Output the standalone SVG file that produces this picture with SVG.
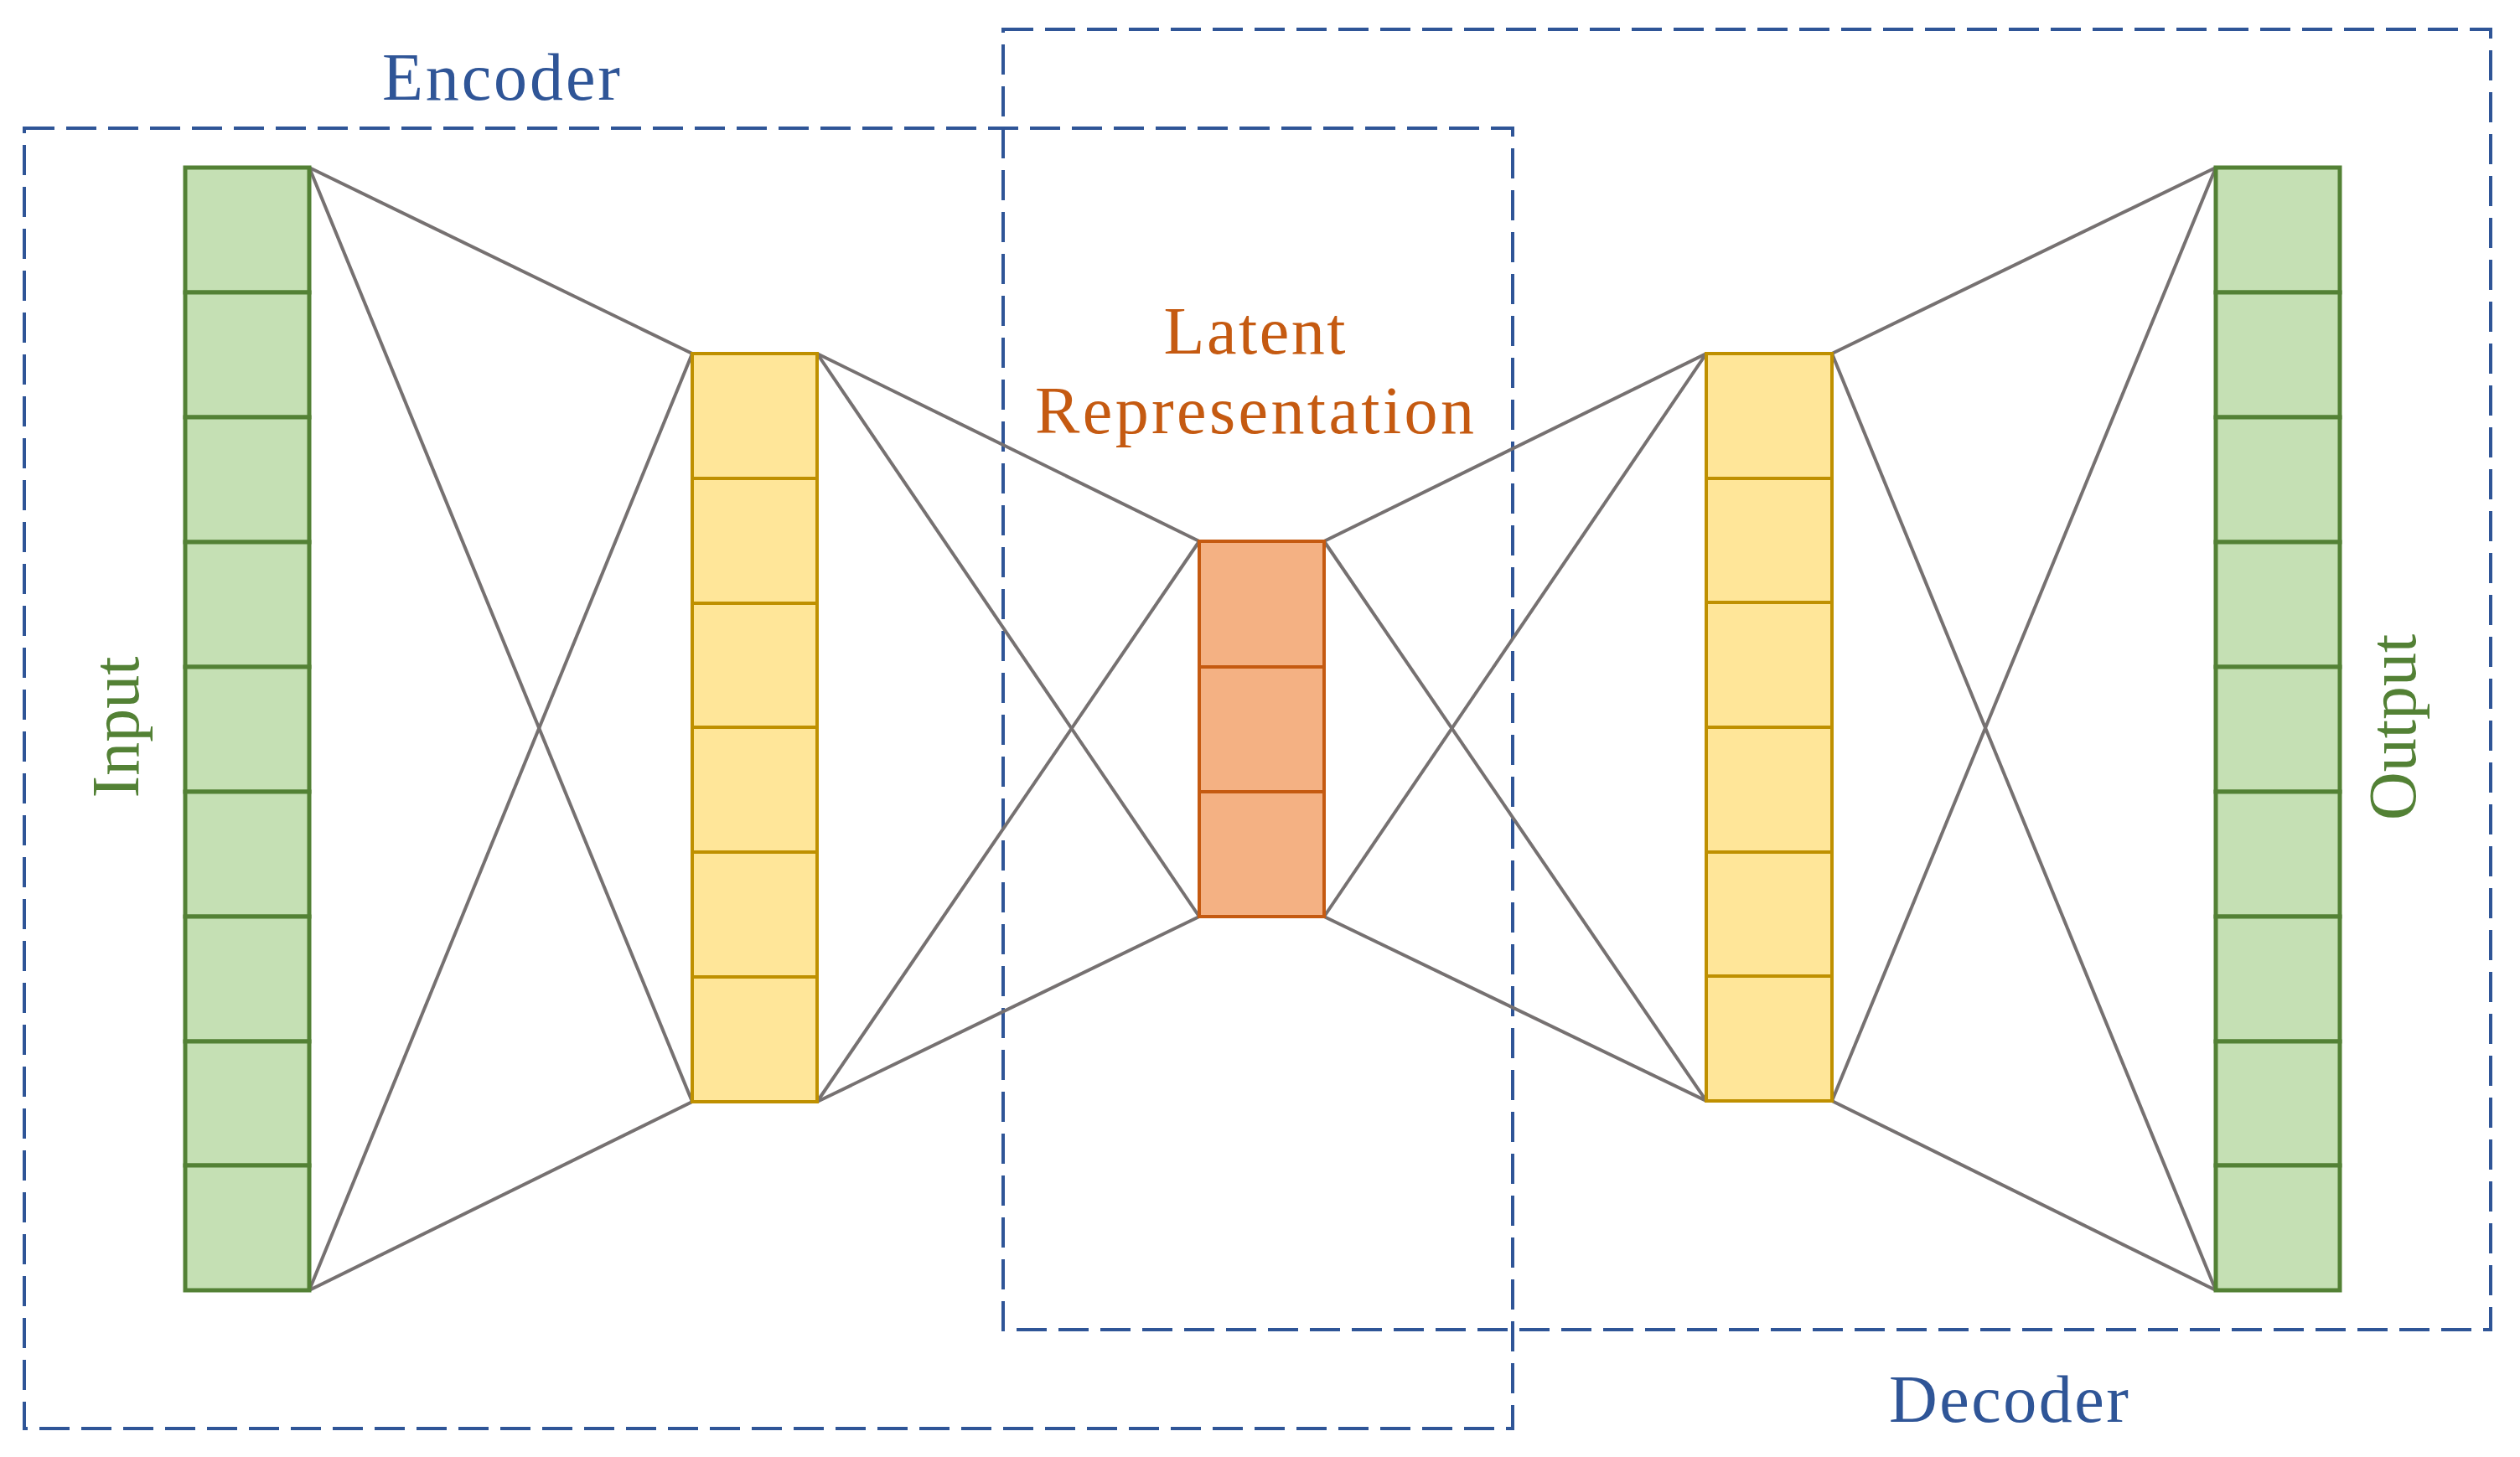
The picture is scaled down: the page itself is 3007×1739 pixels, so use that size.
<svg xmlns="http://www.w3.org/2000/svg" width="3007" height="1739" viewBox="0 0 3007 1739">
<style>
.box{fill:none;stroke:#2F5597;stroke-width:4;stroke-dasharray:36 14}
.lbl{font-family:"Liberation Serif","DejaVu Serif",serif;font-size:80px;text-anchor:middle}
.g{fill:#C5E0B4;stroke:#538135;stroke-width:5}
.y{fill:#FFE699;stroke:#BF9000;stroke-width:4}
.o{fill:#F4B183;stroke:#C55A11;stroke-width:4}
.c line{stroke:#767171;stroke-width:4}
</style>
<rect width="3007" height="1739" fill="#fff"/>
<g id="encoder"><rect class="box" x="29" y="153" width="1776" height="1552"/><text class="lbl" x="598" y="119" fill="#2F5597" textLength="284">Encoder</text></g>
<g id="decoder"><rect class="box" x="1197" y="35" width="1775" height="1552"/><text class="lbl" x="2397" y="1697" fill="#2F5597" textLength="286">Decoder</text></g>
<g class="c" id="connectors">
<line x1="369" y1="200" x2="826" y2="422"/><line x1="369" y1="200" x2="826" y2="1315"/>
<line x1="369" y1="1540" x2="826" y2="422"/><line x1="369" y1="1540" x2="826" y2="1315"/>
<line x1="975" y1="422" x2="1431" y2="646"/><line x1="975" y1="422" x2="1431" y2="1094"/>
<line x1="975" y1="1315" x2="1431" y2="646"/><line x1="975" y1="1315" x2="1431" y2="1094"/>
<line x1="1580" y1="646" x2="2036" y2="422"/><line x1="1580" y1="646" x2="2036" y2="1314"/>
<line x1="1580" y1="1094" x2="2036" y2="422"/><line x1="1580" y1="1094" x2="2036" y2="1314"/>
<line x1="2186" y1="422" x2="2644" y2="200"/><line x1="2186" y1="422" x2="2644" y2="1540"/>
<line x1="2186" y1="1314" x2="2644" y2="200"/><line x1="2186" y1="1314" x2="2644" y2="1540"/>
</g>
<g id="input">
<rect class="g" x="221" y="200" width="148" height="149"/><rect class="g" x="221" y="349" width="148" height="149"/><rect class="g" x="221" y="498" width="148" height="149"/><rect class="g" x="221" y="647" width="148" height="149"/><rect class="g" x="221" y="796" width="148" height="149"/><rect class="g" x="221" y="945" width="148" height="149"/><rect class="g" x="221" y="1094" width="148" height="149"/><rect class="g" x="221" y="1243" width="148" height="148"/><rect class="g" x="221" y="1391" width="148" height="149"/>
<text class="lbl" transform="translate(165 868) rotate(-90)" fill="#538135">Input</text>
</g>
<g id="hidden1">
<rect class="y" x="826" y="422" width="149" height="149"/><rect class="y" x="826" y="571" width="149" height="149"/><rect class="y" x="826" y="720" width="149" height="148"/><rect class="y" x="826" y="868" width="149" height="149"/><rect class="y" x="826" y="1017" width="149" height="149"/><rect class="y" x="826" y="1166" width="149" height="149"/>
</g>
<g id="latent">
<rect class="o" x="1431" y="646" width="149" height="150"/><rect class="o" x="1431" y="796" width="149" height="149"/><rect class="o" x="1431" y="945" width="149" height="149"/>
<text class="lbl" x="1497" y="422" fill="#C55A11" textLength="217">Latent</text>
<text class="lbl" x="1497" y="517" fill="#C55A11" textLength="524">Representation</text>
</g>
<g id="hidden2">
<rect class="y" x="2036" y="422" width="150" height="149"/><rect class="y" x="2036" y="571" width="150" height="148"/><rect class="y" x="2036" y="719" width="150" height="149"/><rect class="y" x="2036" y="868" width="150" height="149"/><rect class="y" x="2036" y="1017" width="150" height="148"/><rect class="y" x="2036" y="1165" width="150" height="149"/>
</g>
<g id="output">
<rect class="g" x="2644" y="200" width="148" height="149"/><rect class="g" x="2644" y="349" width="148" height="149"/><rect class="g" x="2644" y="498" width="148" height="149"/><rect class="g" x="2644" y="647" width="148" height="149"/><rect class="g" x="2644" y="796" width="148" height="149"/><rect class="g" x="2644" y="945" width="148" height="149"/><rect class="g" x="2644" y="1094" width="148" height="149"/><rect class="g" x="2644" y="1243" width="148" height="148"/><rect class="g" x="2644" y="1391" width="148" height="149"/>
<text class="lbl" transform="translate(2882 868) rotate(-90)" fill="#538135">Output</text>
</g>
</svg>
